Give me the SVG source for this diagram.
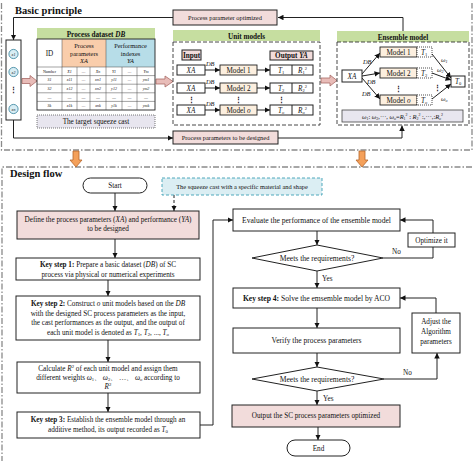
<svg xmlns="http://www.w3.org/2000/svg" width="474" height="461" viewBox="0 0 474 461">
<defs>
<style>
.t{font-family:"Liberation Serif","Times New Roman",serif;font-size:7.2px;fill:#111}
.r{font-size:7.6px}
.s{font-size:6.4px}
.xs{font-size:4px}
.h{font-size:10.5px;font-weight:bold}
.b{font-weight:bold}
.i{font-style:italic}
.box{fill:#fff;stroke:#222;stroke-width:1}
.pink{fill:#f2dcdb;stroke:#222;stroke-width:1}
.ln{fill:none;stroke:#222;stroke-width:1}
.grn{fill:#c6dea0;stroke:none}
.mdl{fill:#fcefdf;stroke:#222;stroke-width:0.9}
.dash{fill:none;stroke:#333;stroke-width:0.9;stroke-dasharray:4 2}
.sec{fill:none;stroke:#8a8a8a;stroke-width:1.3;stroke-dasharray:6 2 1.5 2}
.blk{fill:#e8bcb8;stroke:#a86a66;stroke-width:0.8}
.org{fill:#f4a05a;stroke:#b5652a;stroke-width:0.8}
.cir{fill:#d8edf4;stroke:#2f7f9a;stroke-width:0.8}
.cell{fill:none;stroke:#444;stroke-width:0.5}
</style>
<marker id="ah" viewBox="0 0 10 10" refX="10" refY="5" markerWidth="5.5" markerHeight="5.5" orient="auto" markerUnits="userSpaceOnUse"><path d="M0,0L10,5L0,10z" fill="#111"/></marker>
</defs>
<rect width="474" height="461" fill="#fff"/>

<!-- section borders -->
<g id="sections">
<path class="sec" d="M1.5,3V150H472V3"/>
<path class="sec" d="M472,167H2V461"/>
<text class="t h" x="15" y="14">Basic principle</text>
<text class="t h" x="10" y="177">Design flow</text>
<path class="org" d="M73,151h6v9h3l-6,7l-6,-7h3z"/>
<path class="org" d="M359,151h6v9h3l-6,7l-6,-7h3z"/>
</g>

<!-- connectors -->
<g id="connectors">
<path class="ln" d="M403,32V17.5H278" marker-end="url(#ah)"/>
<path class="ln" d="M173,17.5H13.5V40" marker-end="url(#ah)"/>
<path class="ln" d="M13.5,120V138H173" marker-end="url(#ah)"/>
<path class="ln" d="M278,138H402V125.5" marker-end="url(#ah)"/>
<path class="blk" d="M22,78.5h8v-3l7,5.5l-7,5.5v-3h-8z"/>
<path class="blk" d="M156,79h9v-3l8,5.5l-8,5.5v-3h-9z"/>
<path class="blk" d="M321,78h9v-3l7,5.5l-7,5.5v-3h-9z"/>
<!-- unit model arrows -->
<path class="ln" d="M205,70H220" marker-end="url(#ah)"/>
<path class="ln" d="M205,88H220" marker-end="url(#ah)"/>
<path class="ln" d="M205,110H220" marker-end="url(#ah)"/>
<path class="ln" d="M257,70H270" marker-end="url(#ah)"/>
<path class="ln" d="M257,88H270" marker-end="url(#ah)"/>
<path class="ln" d="M257,110H270" marker-end="url(#ah)"/>
<!-- ensemble arrows -->
<path class="ln" d="M362,74L380,53" marker-end="url(#ah)"/>
<path class="ln" d="M362,76L380,73" marker-end="url(#ah)"/>
<path class="ln" d="M362,78L380,99" marker-end="url(#ah)"/>
<path class="ln" d="M432,54L451,78" marker-end="url(#ah)"/>
<path class="ln" d="M432,73L451,80" marker-end="url(#ah)"/>
<path class="ln" d="M432,99L451,84" marker-end="url(#ah)"/>
<!-- flow -->
<path class="ln" d="M115,193V211" marker-end="url(#ah)"/>
<path class="ln" d="M174,195V211" stroke-dasharray="3 2" marker-end="url(#ah)"/>
<path class="ln" d="M115,239V258" marker-end="url(#ah)"/>
<path class="ln" d="M108,280V296" marker-end="url(#ah)"/>
<path class="ln" d="M108,340V362" marker-end="url(#ah)"/>
<path class="ln" d="M108,393V412" marker-end="url(#ah)"/>
<path class="ln" d="M200,425H213V220H233" marker-end="url(#ah)"/>
<path class="ln" d="M317,231V245" marker-end="url(#ah)"/>
<path class="ln" d="M383,258H433V247"/>
<path class="ln" d="M433,233V220H400" marker-end="url(#ah)"/>
<path class="ln" d="M317,271V288" marker-end="url(#ah)"/>
<path class="ln" d="M436,313V298H400" marker-end="url(#ah)"/>
<path class="ln" d="M317,308V328" marker-end="url(#ah)"/>
<path class="ln" d="M317,353V367" marker-end="url(#ah)"/>
<path class="ln" d="M384,379H437V353" marker-end="url(#ah)"/>
<path class="ln" d="M317,391V405" marker-end="url(#ah)"/>
<path class="ln" d="M318,427V440" marker-end="url(#ah)"/>
<text class="t" x="392" y="254">No</text>
<text class="t" x="322" y="281">Yes</text>
<text class="t" x="403" y="375">No</text>
<text class="t" x="323" y="401">Yes</text>
</g>

<!-- top: inputs column -->
<g id="inputs">
<rect class="box" x="6" y="40" width="15" height="80"/>
<circle class="cir" cx="13.5" cy="54" r="4.6"/>
<circle class="cir" cx="13.5" cy="72" r="4.6"/>
<circle class="cir" cx="13.5" cy="109" r="4.6"/>
<text class="t i xs" x="13.5" y="55.5" text-anchor="middle">x1</text>
<text class="t i xs" x="13.5" y="73.5" text-anchor="middle">x2</text>
<text class="t i xs" x="13.5" y="110.5" text-anchor="middle">xn</text>
<text class="t b" x="13.5" y="92" text-anchor="middle" font-size="7">⋮</text>
</g>

<!-- top: dataset table -->
<g id="dataset">
<rect class="grn" x="37" y="28" width="118" height="11"/>
<text class="t b" x="96" y="36.5" text-anchor="middle">Process dataset <tspan class="i">DB</tspan></text>
<rect x="62" y="39" width="44" height="28" fill="#f9cdab"/>
<rect x="106" y="39" width="49" height="28" fill="#b7dde8"/>
<rect x="37" y="39" width="118" height="71" fill="none" stroke="#222" stroke-width="0.9"/>
<path class="cell" d="M37,67H155M37,75.6H155M37,84.2H155M37,92.8H155M37,101.4H155M62,39V110M106,39V110M77,67V110M90,67V110M122,67V110M137,67V110"/>
<text class="t" x="49.5" y="56" text-anchor="middle" font-size="8">ID</text>
<text class="t s" x="84" y="48" text-anchor="middle">Process</text>
<text class="t s" x="84" y="55.5" text-anchor="middle">parameters</text>
<text class="t s i" x="84" y="63" text-anchor="middle">XA</text>
<text class="t s" x="130.5" y="48" text-anchor="middle">Performance</text>
<text class="t s" x="130.5" y="55.5" text-anchor="middle">indexes</text>
<text class="t s i" x="130.5" y="63" text-anchor="middle">YA</text>
<g class="t xs" text-anchor="middle">
<text x="49.5" y="72.7">Number</text><text x="69.5" y="72.7" class="i">X1</text><text x="83.5" y="72.7">…</text><text x="98" y="72.7" class="i">Xn</text><text x="114" y="72.7" class="i">Y1</text><text x="129.5" y="72.7">…</text><text x="146" y="72.7" class="i">Ym</text>
<text x="49.5" y="81.3" class="i">S1</text><text x="69.5" y="81.3" class="i">x11</text><text x="83.5" y="81.3">…</text><text x="98" y="81.3" class="i">xn1</text><text x="114" y="81.3" class="i">y11</text><text x="129.5" y="81.3">…</text><text x="146" y="81.3" class="i">ym1</text>
<text x="49.5" y="89.9" class="i">S2</text><text x="69.5" y="89.9" class="i">x12</text><text x="83.5" y="89.9">…</text><text x="98" y="89.9" class="i">xn2</text><text x="114" y="89.9" class="i">y12</text><text x="129.5" y="89.9">…</text><text x="146" y="89.9" class="i">ym2</text>
<text x="49.5" y="98.5">—</text><text x="69.5" y="98.5">—</text><text x="83.5" y="98.5">—</text><text x="98" y="98.5">—</text><text x="114" y="98.5">—</text><text x="129.5" y="98.5">—</text><text x="146" y="98.5">—</text>
<text x="49.5" y="107.1" class="i">Sk</text><text x="69.5" y="107.1" class="i">x1k</text><text x="83.5" y="107.1">…</text><text x="98" y="107.1" class="i">xnk</text><text x="114" y="107.1" class="i">y1k</text><text x="129.5" y="107.1">…</text><text x="146" y="107.1" class="i">ymk</text>
</g>
<rect x="37" y="115" width="118" height="13" fill="#e8e6ef" stroke="#555" stroke-width="0.8" stroke-dasharray="1 1"/>
<text class="t" x="96" y="124" text-anchor="middle">The target squeeze  cast</text>
</g>

<!-- top: feedback boxes -->
<g id="optimized">
<rect class="pink" x="173" y="10" width="104" height="15" stroke="#555"/>
<text class="t s" x="225" y="20" text-anchor="middle">Process parameter optimized</text>
</g>
<g id="designed">
<rect class="pink" x="173" y="131" width="105" height="13" stroke="#555"/>
<text class="t s" x="225.5" y="140" text-anchor="middle">Process parameters to be designed</text>
</g>

<!-- unit models -->
<g id="unit-models">
<rect class="grn" x="173" y="30" width="147" height="11"/>
<text class="t b" x="246.5" y="38.5" text-anchor="middle">Unit models</text>
<rect class="dash" x="173" y="42" width="147" height="83"/>
<rect class="pink" x="182" y="50" width="19" height="10" stroke="none"/>
<text class="t b" x="191.5" y="58" text-anchor="middle" font-size="6.8">Input</text>
<rect class="pink" x="270" y="51" width="43" height="9" stroke="none"/>
<text class="t b" x="291.5" y="58" text-anchor="middle" font-size="6.5">Output <tspan class="i">YA</tspan></text>
<g>
<rect class="box" x="177" y="65" width="28" height="10"/>
<rect class="box" x="177" y="83" width="28" height="10"/>
<rect class="box" x="177" y="105" width="28" height="10"/>
<text class="t i" x="191" y="72.5" text-anchor="middle">XA</text>
<text class="t i" x="191" y="90.5" text-anchor="middle">XA</text>
<text class="t i" x="191" y="112.5" text-anchor="middle">XA</text>
<text class="t i s" x="206" y="66">DB</text>
<text class="t i s" x="206" y="84">DB</text>
<text class="t i s" x="206" y="106">DB</text>
<rect class="mdl" x="220" y="65" width="37" height="10"/>
<rect class="mdl" x="220" y="83" width="37" height="10"/>
<rect class="mdl" x="220" y="105" width="37" height="10"/>
<text class="t" x="238.5" y="72.5" text-anchor="middle">Model 1</text>
<text class="t" x="238.5" y="90.5" text-anchor="middle">Model 2</text>
<text class="t" x="238.5" y="112.5" text-anchor="middle">Model <tspan class="i">o</tspan></text>
<rect class="box" x="270" y="65" width="43" height="10"/>
<rect class="box" x="270" y="83" width="43" height="10"/>
<rect class="box" x="270" y="105" width="43" height="10"/>
<path class="ln" d="M292,65V75M292,83V93M292,105V115" stroke-width="0.8"/>
<text class="t" x="281" y="72.5" text-anchor="middle"><tspan class="i">T</tspan><tspan font-size="4.5" dy="1.2">1</tspan></text>
<text class="t" x="281" y="90.5" text-anchor="middle"><tspan class="i">T</tspan><tspan font-size="4.5" dy="1.2">2</tspan></text>
<text class="t" x="281" y="112.5" text-anchor="middle"><tspan class="i">T</tspan><tspan font-size="4.5" dy="1.2" class="i">o</tspan></text>
<text class="t" x="302.5" y="72.5" text-anchor="middle"><tspan class="i">R</tspan><tspan font-size="4.5" dy="1.2">1</tspan><tspan font-size="4.5" dy="-4">2</tspan></text>
<text class="t" x="302.5" y="90.5" text-anchor="middle"><tspan class="i">R</tspan><tspan font-size="4.5" dy="1.2">2</tspan><tspan font-size="4.5" dy="-4">2</tspan></text>
<text class="t" x="302.5" y="112.5" text-anchor="middle"><tspan class="i">R</tspan><tspan font-size="4.5" dy="1.2" class="i">o</tspan><tspan font-size="4.5" dy="-4">2</tspan></text>
<text class="t b" x="191" y="102" text-anchor="middle">⋮</text>
<text class="t b" x="238.5" y="102" text-anchor="middle">⋮</text>
<text class="t b" x="281" y="102" text-anchor="middle">⋮</text>
</g>
</g>

<!-- ensemble model -->
<g id="ensemble-model">
<rect class="grn" x="337" y="31" width="132" height="11"/>
<text class="t b" x="403" y="39.5" text-anchor="middle">Ensemble model</text>
<rect class="dash" x="337" y="42" width="132" height="83"/>
<rect class="box" x="342" y="70" width="20" height="12"/>
<text class="t i" x="352" y="78.5" text-anchor="middle">XA</text>
<rect class="mdl" x="380" y="47" width="37" height="10"/>
<rect class="mdl" x="380" y="68" width="37" height="10"/>
<rect class="mdl" x="380" y="95" width="37" height="10"/>
<rect x="417" y="47" width="15" height="10" fill="#fff" stroke="#222" stroke-width="0.8" stroke-dasharray="1 1"/>
<rect x="417" y="68" width="15" height="10" fill="#fff" stroke="#222" stroke-width="0.8" stroke-dasharray="1 1"/>
<rect x="417" y="95" width="15" height="10" fill="#fff" stroke="#222" stroke-width="0.8" stroke-dasharray="1 1"/>
<text class="t" x="398.5" y="54.5" text-anchor="middle">Model 1</text>
<text class="t" x="398.5" y="75.5" text-anchor="middle">Model 2</text>
<text class="t" x="398.5" y="102.5" text-anchor="middle">Model <tspan class="i">o</tspan></text>
<text class="t" x="424" y="54.5" text-anchor="middle"><tspan class="i">T</tspan><tspan font-size="4.5" dy="1.2">1</tspan></text>
<text class="t" x="424" y="75.5" text-anchor="middle"><tspan class="i">T</tspan><tspan font-size="4.5" dy="1.2">2</tspan></text>
<text class="t" x="424" y="102.5" text-anchor="middle"><tspan class="i">T</tspan><tspan font-size="4.5" dy="1.2" class="i">o</tspan></text>
<text class="t i s" x="363" y="64">DB</text>
<text class="t i s" x="367" y="84">DB</text>
<text class="t i s" x="362" y="96">DB</text>
<text class="t b" x="398.5" y="91" text-anchor="middle">⋮</text>
<text class="t b" x="437" y="90" text-anchor="middle">⋮</text>
<text class="t i s" x="441" y="62">ω<tspan font-size="4" dy="1">1</tspan></text>
<text class="t i s" x="437" y="72">ω<tspan font-size="4" dy="1">2</tspan></text>
<text class="t i s" x="441" y="101">ω<tspan font-size="4" dy="1">o</tspan></text>
<rect class="box" x="451" y="76" width="14" height="11"/>
<text class="t" x="458" y="83.5" text-anchor="middle"><tspan class="i">T</tspan><tspan font-size="4.5" dy="1.2">0</tspan></text>
<rect x="342" y="110" width="121" height="12" fill="#e8e6ef" stroke="#444" stroke-width="0.8"/>
<text class="t s" x="402.5" y="118.5" text-anchor="middle"><tspan class="i">ω</tspan><tspan font-size="4" dy="1">1</tspan><tspan dy="-1">: </tspan><tspan class="i">ω</tspan><tspan font-size="4" dy="1">2</tspan><tspan dy="-1">,···, </tspan><tspan class="i">ω</tspan><tspan font-size="4" dy="1" class="i">o</tspan><tspan dy="-1">=</tspan><tspan class="i">R</tspan><tspan font-size="4" dy="1">1</tspan><tspan font-size="4" dy="-3.5">2</tspan><tspan dy="2.5"> : </tspan><tspan class="i">R</tspan><tspan font-size="4" dy="1">2</tspan><tspan font-size="4" dy="-3.5">2</tspan><tspan dy="2.5"> :,···,:</tspan><tspan class="i">R</tspan><tspan font-size="4" dy="1" class="i">o</tspan><tspan font-size="4" dy="-3.5">2</tspan></text>
</g>

<!-- design flow nodes -->
<g id="start">
<rect class="box" x="83" y="178" width="64" height="15" rx="7.5"/>
<text class="t" x="115" y="188" text-anchor="middle">Start</text>
</g>
<g id="material">
<rect x="162" y="178" width="160" height="17" fill="#dbeef3" stroke="#3d9fb5" stroke-width="0.9" stroke-dasharray="3 2"/>
<text class="t s" x="242" y="189" text-anchor="middle">The squeeze cast with a specific material and shape</text>
</g>
<g id="define">
<rect class="pink" x="17" y="211" width="182" height="28"/>
<text class="t" x="108" y="222" text-anchor="middle">Define the process parameters (<tspan class="i">XA</tspan>) and performance (<tspan class="i">YA</tspan>)</text>
<text class="t" x="108" y="231" text-anchor="middle">to be designed</text>
</g>
<g id="step1">
<rect class="box" x="16" y="258" width="184" height="22"/>
<text class="t" x="108" y="267" text-anchor="middle"><tspan class="b">Key step 1:</tspan>  Prepare a basic dataset (<tspan class="i">DB</tspan>) of SC</text>
<text class="t" x="108" y="276.5" text-anchor="middle">process via physical or numerical experiments</text>
</g>
<g id="step2">
<rect class="box" x="16" y="296" width="184" height="44"/>
<text class="t" x="108" y="306" text-anchor="middle"><tspan class="b">Key step 2:</tspan> Construct <tspan class="i">o</tspan> unit models based on the <tspan class="i">DB</tspan></text>
<text class="t" x="108" y="315.5" text-anchor="middle">with the designed SC process parameters as the input,</text>
<text class="t" x="108" y="325" text-anchor="middle">the cast performances as the output, and the output of</text>
<text class="t" x="108" y="334.5" text-anchor="middle">each unit model is denoted as <tspan class="i">T</tspan><tspan font-size="4.8" dy="1.2">1</tspan><tspan dy="-1.2">, </tspan><tspan class="i">T</tspan><tspan font-size="4.8" dy="1.2">2</tspan><tspan dy="-1.2">, ..., </tspan><tspan class="i">T</tspan><tspan font-size="4.8" dy="1.2" class="i">o</tspan></text>
</g>
<g id="calculate">
<rect class="box" x="17" y="362" width="183" height="31"/>
<text class="t" x="108" y="370.5" text-anchor="middle">Calculate <tspan class="i">R</tspan><tspan font-size="4.8" dy="-3">2</tspan><tspan dy="3"> of each unit model and assign them</tspan></text>
<text class="t" x="108" y="380" text-anchor="middle">different weights  <tspan class="i">ω</tspan><tspan font-size="4.5" dy="1">1</tspan><tspan dy="-1">、 </tspan><tspan class="i">ω</tspan><tspan font-size="4.5" dy="1">2</tspan><tspan dy="-1">、 …、 </tspan><tspan class="i">ω</tspan><tspan font-size="4.5" dy="1" class="i">o</tspan><tspan dy="-1"> according to</tspan></text>
<text class="t" x="108" y="389" text-anchor="middle"><tspan class="i">R</tspan><tspan font-size="4.8" dy="-3">2</tspan></text>
</g>
<g id="step3">
<rect class="box" x="17" y="412" width="183" height="26"/>
<text class="t" x="108" y="422" text-anchor="middle"><tspan class="b">Key step 3:</tspan> Establish the ensemble model through an</text>
<text class="t" x="108" y="432" text-anchor="middle">additive method, its  output recorded as <tspan class="i">T</tspan><tspan font-size="4.8" dy="1.2">0</tspan></text>
</g>
<g id="evaluate">
<rect class="box" x="233" y="209" width="167" height="22"/>
<text class="t r" x="316.5" y="222.5" text-anchor="middle">Evaluate the performance of the ensemble model</text>
</g>
<g id="optimize-it">
<rect class="box" x="408" y="233" width="47" height="14"/>
<text class="t" x="431.5" y="242.5" text-anchor="middle">Optimize it</text>
</g>
<g id="decision1">
<polygon class="box" points="252,258 317,245 383,258 317,271"/>
<text class="t r" x="317" y="260.5" text-anchor="middle">Meets the requirements?</text>
</g>
<g id="step4">
<rect class="box" x="233" y="288" width="167" height="20"/>
<text class="t r" x="316.5" y="300.5" text-anchor="middle"><tspan class="b">Key step 4:</tspan> Solve the emsemble model by ACO</text>
</g>
<g id="adjust">
<rect class="box" x="412" y="313" width="48" height="40"/>
<text class="t" x="436" y="324" text-anchor="middle">Adjust the</text>
<text class="t" x="436" y="334" text-anchor="middle">Algorithm</text>
<text class="t" x="436" y="344" text-anchor="middle">parameters</text>
</g>
<g id="verify">
<rect class="box" x="233" y="328" width="167" height="25"/>
<text class="t r" x="316.5" y="343" text-anchor="middle">Verify the process parameters</text>
</g>
<g id="decision2">
<polygon class="box" points="252,379 317,367 384,379 317,391"/>
<text class="t r" x="317" y="381.5" text-anchor="middle">Meets the requirements?</text>
</g>
<g id="output">
<rect class="pink" x="232" y="405" width="168" height="22"/>
<text class="t" x="316" y="418" text-anchor="middle">Output the SC process parameters optimized</text>
</g>
<g id="end">
<rect class="box" x="287" y="440" width="63" height="16" rx="8"/>
<text class="t" x="318.5" y="450.5" text-anchor="middle">End</text>
</g>
</svg>
